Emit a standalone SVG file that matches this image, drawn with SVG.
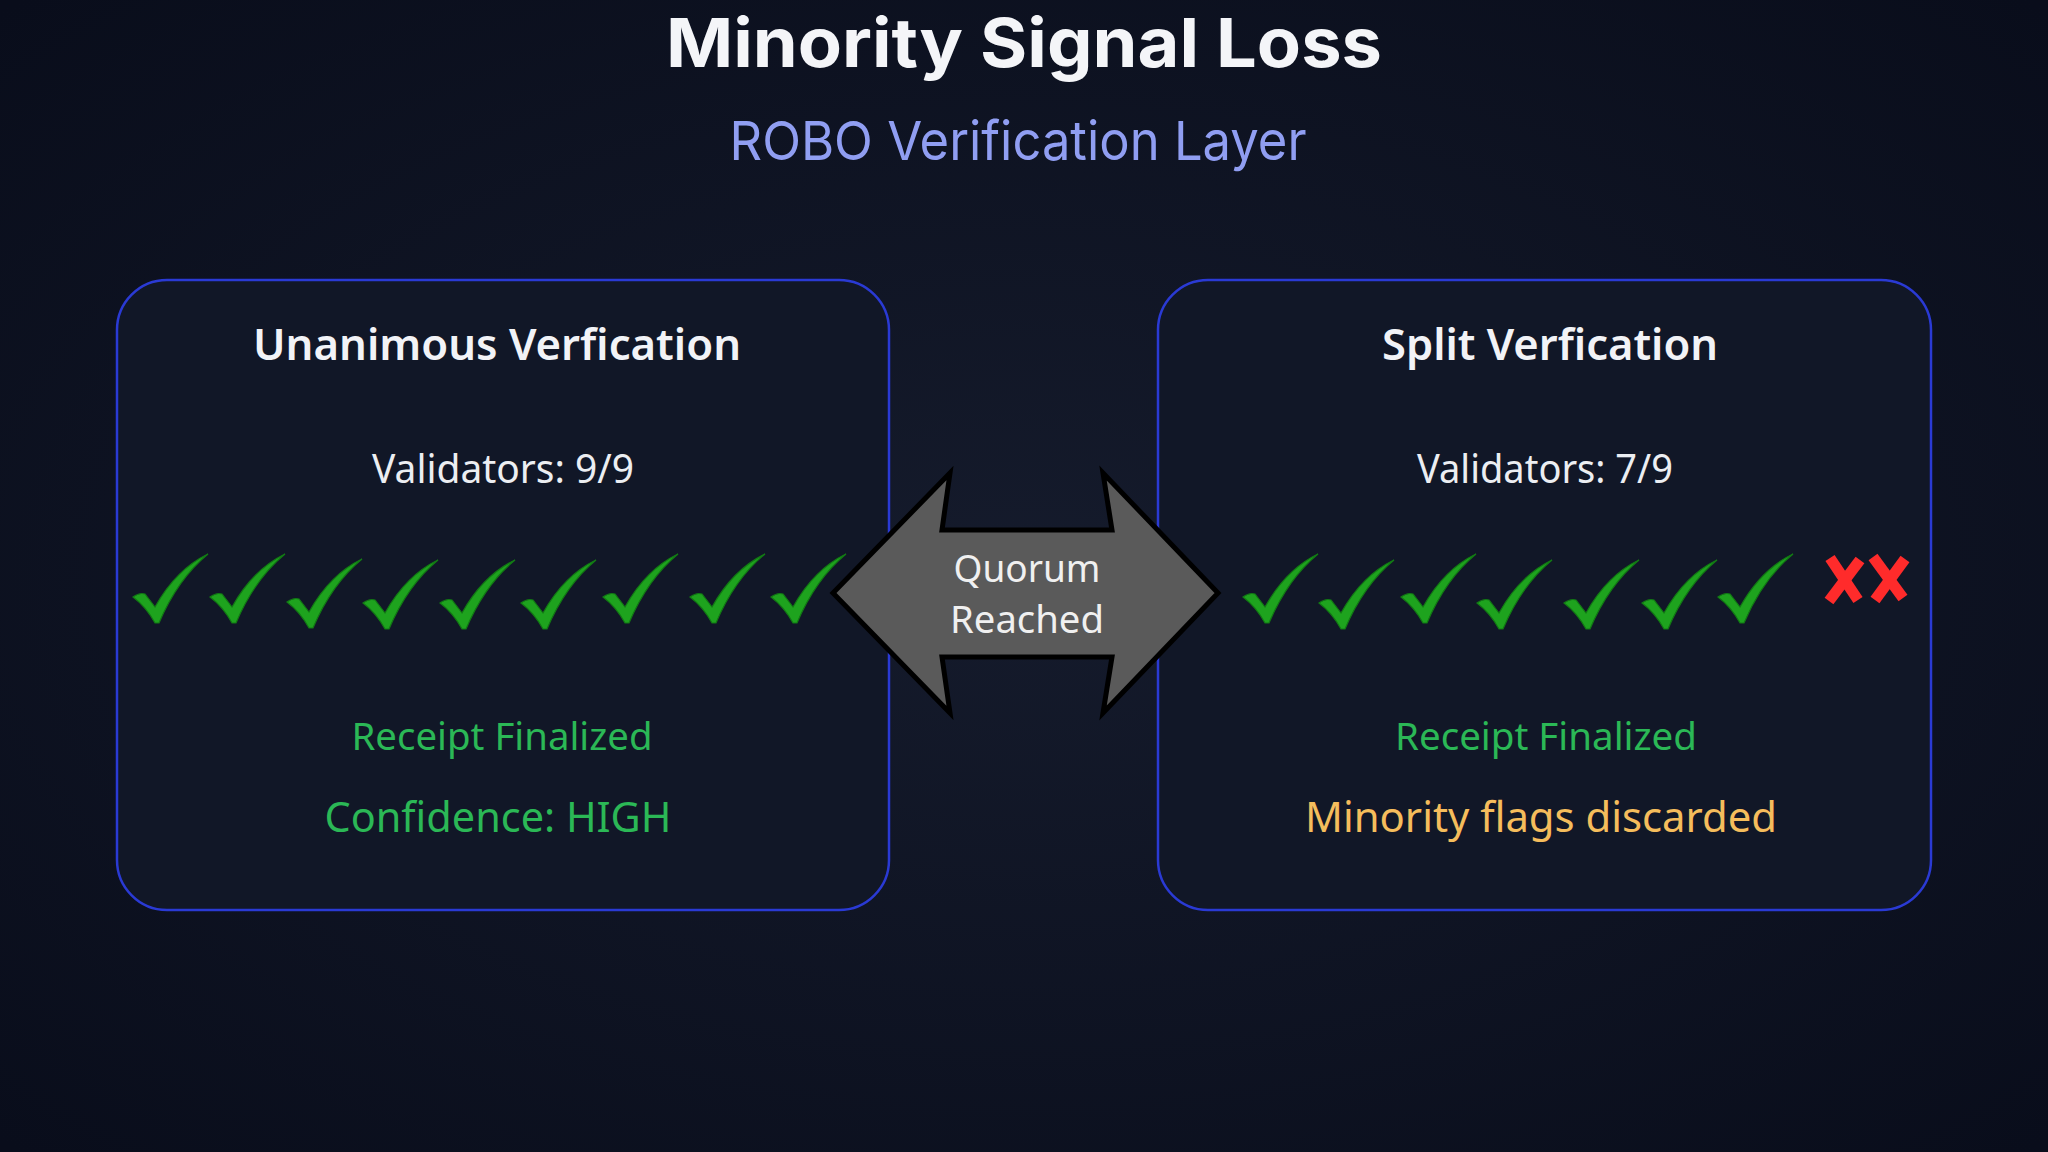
<svg xmlns="http://www.w3.org/2000/svg" width="2048" height="1152" viewBox="0 0 2048 1152">
<defs>
<radialGradient id="bg" cx="50%" cy="50%" r="70%">
<stop offset="0" stop-color="#151b2c"/>
<stop offset="1" stop-color="#090d1b"/>
</radialGradient>
<g id="chk">
<path d="M0 43 C4 40 9 39 12 40 L22 53 C36 28 54 10 75 0 C58 14 40 36 26 69 L22 69 C16 58 8 49 0 43 Z"/>
</g>
<style>
.box{fill:#111727;stroke:#2a3ad4;stroke-width:2.5}
.ttl{font-family:"Noto Sans","Open Sans",sans-serif;font-weight:600;font-size:43px;fill:#f2f3f7;text-anchor:middle}
.val{font-family:"Noto Sans","Open Sans",sans-serif;font-weight:400;font-size:40px;fill:#eceef2;text-anchor:middle}
.grn{font-family:"Noto Sans","Open Sans",sans-serif;font-weight:400;fill:#2bb856;text-anchor:middle}
.org{font-family:"Noto Sans","Open Sans",sans-serif;font-weight:400;fill:#f5bd5c;text-anchor:middle}
.checks use{fill:#1ea31e;stroke:#127a14;stroke-width:1.2}
.cross line{stroke:#ff2b2b;stroke-width:11;stroke-linecap:butt}
</style>
</defs>
<rect width="2048" height="1152" fill="url(#bg)"/>
<g id="title">
<text x="1024" y="67" font-family="Inter,'Open Sans',sans-serif" font-weight="700" font-size="68" fill="#f4f5f8" text-anchor="middle" textLength="716" lengthAdjust="spacingAndGlyphs">Minority Signal Loss</text>
<text x="1018" y="160" font-family="Inter,'Open Sans',sans-serif" font-weight="400" font-size="54" fill="#909ef2" text-anchor="middle" textLength="577" lengthAdjust="spacingAndGlyphs">ROBO Verification Layer</text>
</g>
<g id="left-box">
<rect class="box" x="117" y="280" width="772" height="630" rx="50"/>
<text class="ttl" x="497" y="360" textLength="488" lengthAdjust="spacingAndGlyphs">Unanimous Verfication</text>
<text class="val" x="503" y="483" textLength="262" lengthAdjust="spacingAndGlyphs">Validators: 9/9</text>
<g class="checks">
<use href="#chk" transform="translate(133,554)"/>
<use href="#chk" transform="translate(210,554)"/>
<use href="#chk" transform="translate(287,559)"/>
<use href="#chk" transform="translate(363,560)"/>
<use href="#chk" transform="translate(440,560)"/>
<use href="#chk" transform="translate(521,560)"/>
<use href="#chk" transform="translate(603,554)"/>
<use href="#chk" transform="translate(690,554)"/>
<use href="#chk" transform="translate(771,554)"/>
</g>
<text class="grn" x="502" y="750" font-size="39" textLength="301" lengthAdjust="spacingAndGlyphs">Receipt Finalized</text>
<text class="grn" x="498" y="832" font-size="42" textLength="347" lengthAdjust="spacingAndGlyphs">Confidence: HIGH</text>
</g>
<g id="right-box">
<rect class="box" x="1158" y="280" width="773" height="630" rx="50"/>
<text class="ttl" x="1550" y="360" textLength="336" lengthAdjust="spacingAndGlyphs">Split Verfication</text>
<text class="val" x="1545" y="483" textLength="256" lengthAdjust="spacingAndGlyphs">Validators: 7/9</text>
<g class="checks">
<use href="#chk" transform="translate(1243,554)"/>
<use href="#chk" transform="translate(1319,560)"/>
<use href="#chk" transform="translate(1401,554)"/>
<use href="#chk" transform="translate(1477,560)"/>
<use href="#chk" transform="translate(1564,560)"/>
<use href="#chk" transform="translate(1642,560)"/>
<use href="#chk" transform="translate(1718,554)"/>
</g>
<g class="cross">
<line x1="1830" y1="558" x2="1858" y2="600"/>
<line x1="1860" y1="560" x2="1829" y2="601"/>
<line x1="1873" y1="557" x2="1903" y2="598"/>
<line x1="1905" y1="559" x2="1875" y2="600"/>
</g>
<text class="grn" x="1546" y="750" font-size="39" textLength="302" lengthAdjust="spacingAndGlyphs">Receipt Finalized</text>
<text class="org" x="1541" y="832" font-size="42" textLength="472" lengthAdjust="spacingAndGlyphs">Minority flags discarded</text>
</g>
<g id="connectors">
<g id="quorum-arrow">
<polygon points="833,593 950,473 942,530 1112,530 1103,473 1218,593 1103,713 1112,657 942,657 950,713" fill="#5a5a5a" stroke="#000" stroke-width="5" stroke-linejoin="miter"/>
<text x="1027" y="582" font-family="'Noto Sans','Open Sans',sans-serif" font-size="38" fill="#f0f0f0" text-anchor="middle" textLength="147" lengthAdjust="spacingAndGlyphs">Quorum</text>
<text x="1027" y="633" font-family="'Noto Sans','Open Sans',sans-serif" font-size="38" fill="#f0f0f0" text-anchor="middle" textLength="154" lengthAdjust="spacingAndGlyphs">Reached</text>
</g>
</g>
</svg>
